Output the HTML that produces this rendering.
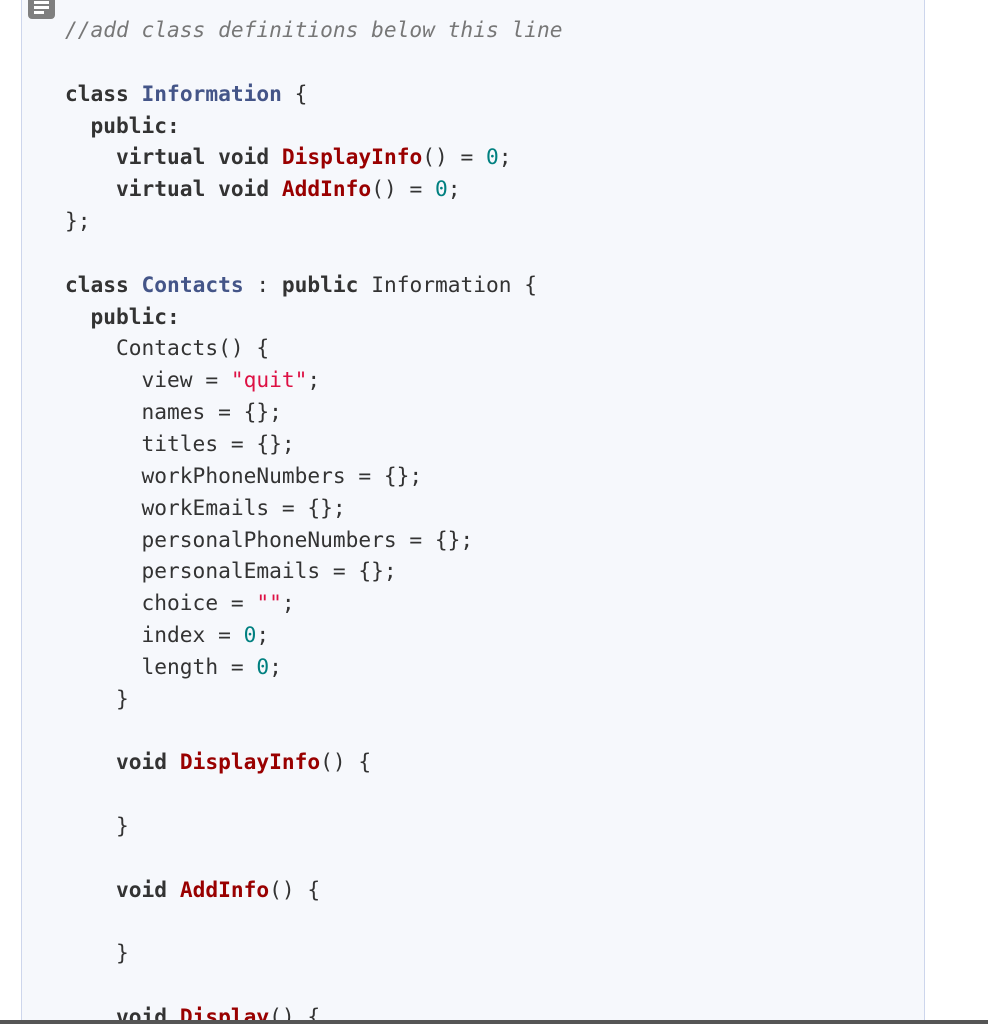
<!DOCTYPE html>
<html><head><style>
html,body{margin:0;padding:0;background:#fff;width:988px;height:1024px;overflow:hidden;position:relative}
.panel{position:absolute;left:21px;top:-2px;width:902px;height:1030px;background:#f6f8fc;border-left:1px solid #cdd6ec;border-right:1px solid #cdd6ec}
.icon{position:absolute;left:28px;top:-4px;width:27px;height:23px;background:#7f7f7f;border-radius:4px}
.icon i{position:absolute;left:6px;height:3px;background:#fff}
pre{position:absolute;left:65px;top:14px;margin:0;font-family:"DejaVu Sans Mono","Liberation Mono",monospace;font-size:21.2px;line-height:31.85px;color:#333}
.k{font-weight:bold;color:#333}.t{font-weight:bold;color:#445588}.f{font-weight:bold;color:#990000}
.n{color:#008080}.s{color:#dd1144}.c{color:#777;font-style:italic}
.bar{position:absolute;left:0;top:1020px;width:988px;height:4px;background:#555}
</style></head><body>
<div class="panel"></div>
<div class="icon"><i style="top:5px;width:15px"></i><i style="top:10px;width:15px"></i><i style="top:15px;width:10px"></i></div>
<pre><span class="c">//add class definitions below this line</span>

<span class="k">class</span> <span class="t">Information</span> {
  <span class="k">public:</span>
    <span class="k">virtual</span> <span class="k">void</span> <span class="f">DisplayInfo</span>() = <span class="n">0</span>;
    <span class="k">virtual</span> <span class="k">void</span> <span class="f">AddInfo</span>() = <span class="n">0</span>;
};

<span class="k">class</span> <span class="t">Contacts</span> : <span class="k">public</span> Information {
  <span class="k">public:</span>
    Contacts() {
      view = <span class="s">"quit"</span>;
      names = {};
      titles = {};
      workPhoneNumbers = {};
      workEmails = {};
      personalPhoneNumbers = {};
      personalEmails = {};
      choice = <span class="s">""</span>;
      index = <span class="n">0</span>;
      length = <span class="n">0</span>;
    }

    <span class="k">void</span> <span class="f">DisplayInfo</span>() {

    }

    <span class="k">void</span> <span class="f">AddInfo</span>() {

    }

    <span class="k">void</span> <span class="f">Display</span>() {
</pre>
<div class="bar"></div>
</body></html>
